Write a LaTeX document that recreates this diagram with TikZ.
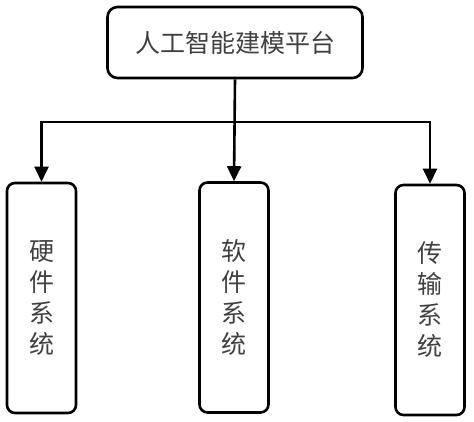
\documentclass[tikz,border=0pt]{standalone}
\usepackage{fontspec}
\newfontfamily\cjk{Noto Sans CJK SC}
\usepackage{tikz}
\usetikzlibrary{positioning}
\usetikzlibrary{arrows.meta}

\tikzset{
	platform/.style={draw, line width=2.6pt, rounded corners=10pt,
		minimum width=255pt, minimum height=71pt, inner sep=0pt,
		text=black!75, font=\cjk\fontsize{25}{31}\selectfont},
	subsys/.style={draw, line width=2.6pt, rounded corners=8pt,
		minimum width=69pt, minimum height=230pt, inner sep=0pt, align=center,
		text=black!75, font=\cjk\fontsize{25}{31}\selectfont},
	link/.style={line width=2.6pt},
	feed/.style={line width=2.6pt, -{Triangle[length=15pt,width=14pt]}}
}

\begin{document}
\begin{tikzpicture}[x=1pt,y=1pt]

	\useasboundingbox (0,0) rectangle (474,422);

	% the platform on top, the three systems below it
	\node[platform] (P) at (235,379.5) {人工智能建模平台};

	\node[subsys] (HW) at (41.5,124) {硬\\件\\系\\统};
	\node[subsys] (SW) at (234,124.5) {软\\件\\系\\统};
	\node[subsys] (TX) at (430,122) {传\\输\\系\\统};

	% branch point of the tree
	\coordinate (J) at (P.south |- 0,300);

	%%%%%%%%%%%%%%%%%%%%%%%%%%%%%%%%%%%%%%%%%%%%%%%%%%%%%%%%%%%%%%
	\draw[feed] (P.south) -- (SW.north);
	\draw[feed] (J) -| (HW.north);
	\draw[feed] (J) -| (TX.north);

\end{tikzpicture}
\end{document}
